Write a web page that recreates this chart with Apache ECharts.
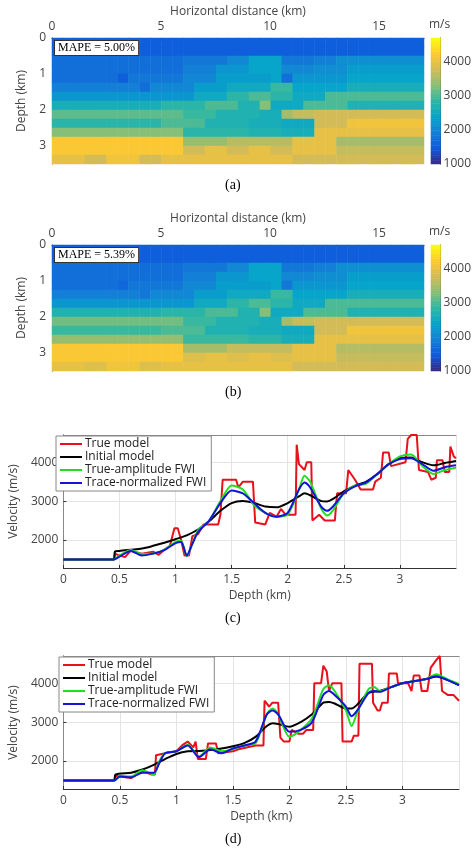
<!DOCTYPE html>
<html>
<head>
<meta charset="utf-8">
<script src="https://cdn.jsdelivr.net/npm/echarts@6/dist/echarts.min.js"></script>
<style>html,body{margin:0;padding:0;background:#fff}#main{width:474px;height:853px}</style>
</head>
<body>
<div id="main"></div>
<script>
// velocity models, hundreds of m/s, run-length rows [value, count], 34 cols x 0.5 km, 14 rows x 0.25 km
const modelA = [
  [[15,34]],
  [[15,34]],
  [[17,12],[18,4],[20,2],[24,3],[18,3],[19,2],[21,8]],
  [[17,12],[19,3],[22,3],[24,3],[20,3],[21,3],[23,7]],
  [[17,6],[15,1],[18,5],[20,3],[23,5],[24,1],[17,1],[22,5],[24,7]],
  [[19,8],[17,1],[20,4],[23,3],[25,4],[29,2],[24,5],[26,7]],
  [[22,13],[25,3],[28,2],[30,2],[28,2],[25,3],[30,9]],
  [[26,10],[28,4],[30,3],[27,2],[33,1],[25,3],[30,4],[27,7]],
  [[31,12],[29,3],[27,4],[26,2],[35,1],[37,2],[38,10]],
  [[28,10],[30,4],[27,4],[26,3],[25,3],[38,3],[41,7]],
  [[33,12],[28,6],[27,3],[26,3],[40,10]],
  [[42,12],[34,4],[36,6],[40,4],[35,8]],
  [[42,12],[38,2],[40,2],[38,2],[40,2],[38,2],[40,4],[37,8]],
  [[40,3],[38,2],[41,3],[38,2],[40,2],[40,10],[38,12]]
];
const modelB = [
  [[15,34]],
  [[15,34]],
  [[17,12],[18,4],[20,2],[24,3],[18,3],[19,2],[21,8]],
  [[17,12],[19,3],[22,3],[24,3],[20,3],[21,3],[23,7]],
  [[17,6],[16,1],[18,5],[20,3],[23,5],[24,1],[18,1],[22,5],[24,7]],
  [[19,8],[18,1],[20,4],[23,3],[25,4],[29,2],[24,5],[26,7]],
  [[22,13],[25,3],[28,2],[30,2],[28,2],[25,3],[30,9]],
  [[27,10],[28,4],[30,3],[27,2],[33,1],[25,3],[30,4],[27,7]],
  [[32,12],[29,3],[27,4],[26,2],[35,1],[37,2],[38,10]],
  [[29,10],[30,4],[27,4],[26,3],[25,3],[38,3],[41,7]],
  [[34,12],[29,6],[28,3],[26,3],[40,10]],
  [[42,12],[35,4],[37,6],[40,4],[36,8]],
  [[42,12],[39,2],[40,2],[39,2],[40,2],[39,2],[40,4],[37,8]],
  [[40,3],[39,2],[41,3],[39,2],[40,2],[40,10],[38,12]]
];
const mapeA = 'MAPE = 5.00%';
const mapeB = 'MAPE = 5.39%';
const velTicks = [2000, 3000, 4000];

// profiles [depth km, velocity m/s]
const trueC = [[0,1500],[0.45,1500],[0.46,1650],[0.5,1600],[0.55,1560],[0.6,1720],[0.7,1650],[0.8,1700],[0.85,1620],[0.9,1750],[0.95,1850],[0.99,2300],[1.02,2300],[1.05,2000],[1.08,1600],[1.12,1600],[1.15,2100],[1.2,2150],[1.25,2400],[1.38,2400],[1.4,2650],[1.42,3550],[1.54,3550],[1.56,3350],[1.6,3500],[1.69,3500],[1.71,2450],[1.8,2400],[1.84,2700],[1.9,2600],[1.94,2800],[1.98,2650],[2.07,2650],[2.08,4450],[2.1,3950],[2.15,3800],[2.17,4000],[2.21,4000],[2.22,2500],[2.28,2650],[2.33,2500],[2.42,2500],[2.44,3200],[2.52,3200],[2.54,3800],[2.6,3550],[2.65,3300],[2.76,3300],[2.78,3500],[2.83,3600],[2.85,4250],[2.9,4250],[2.92,3900],[3.05,4000],[3.07,4600],[3.1,4700],[3.15,4700],[3.17,3800],[3.25,3750],[3.28,3550],[3.32,3600],[3.33,4050],[3.38,4050],[3.4,3750],[3.44,3750],[3.45,4400],[3.48,4150],[3.5,4100]];
const initC = [[0,1500],[0.45,1500],[0.46,1700],[0.5,1720],[0.6,1750],[0.7,1780],[0.8,1850],[0.9,1930],[1,2020],[1.1,2120],[1.2,2270],[1.3,2480],[1.4,2750],[1.5,2950],[1.6,3000],[1.7,2950],[1.8,2860],[1.9,2840],[2,2950],[2.1,3120],[2.15,3200],[2.2,3150],[2.3,3000],[2.35,2990],[2.4,3050],[2.5,3250],[2.6,3400],[2.7,3500],[2.8,3700],[2.9,3950],[3,4100],[3.1,4120],[3.2,4000],[3.3,3920],[3.4,3980],[3.5,4030]];
const taC = [[0,1500],[0.45,1500],[0.5,1600],[0.6,1740],[0.7,1640],[0.8,1650],[0.9,1750],[1,1950],[1.05,1980],[1.1,1580],[1.15,1900],[1.2,2250],[1.3,2500],[1.4,3000],[1.5,3400],[1.6,3300],[1.7,2900],[1.8,2700],[1.9,2600],[2,2650],[2.1,3300],[2.15,3650],[2.2,3500],[2.3,2800],[2.35,2630],[2.4,2750],[2.5,3200],[2.6,3400],[2.7,3450],[2.8,3700],[2.9,3950],[3,4150],[3.1,4200],[3.2,3900],[3.3,3700],[3.4,3800],[3.5,3860]];
const tnC = [[0,1500],[0.45,1500],[0.5,1570],[0.6,1720],[0.7,1600],[0.8,1650],[0.9,1740],[1,1920],[1.05,1950],[1.1,1600],[1.15,1900],[1.2,2200],[1.3,2500],[1.4,2950],[1.5,3270],[1.6,3200],[1.7,2950],[1.8,2700],[1.9,2600],[2,2700],[2.1,3300],[2.15,3480],[2.2,3350],[2.3,2850],[2.35,2750],[2.4,2850],[2.5,3200],[2.6,3380],[2.7,3480],[2.8,3700],[2.9,3950],[3,4080],[3.1,4100],[3.2,3950],[3.3,3780],[3.4,3870],[3.5,3920]];

const trueD = [[0,1500],[0.45,1500],[0.46,1620],[0.5,1600],[0.6,1560],[0.7,1750],[0.78,1650],[0.81,1650],[0.82,2150],[0.9,2200],[1,2250],[1.05,2400],[1.1,2500],[1.15,2350],[1.17,2500],[1.19,2050],[1.26,2050],[1.28,2450],[1.35,2450],[1.37,2200],[1.5,2250],[1.55,2300],[1.7,2400],[1.77,2400],[1.78,3550],[1.82,3400],[1.85,3500],[1.9,3500],[1.92,2600],[1.95,2500],[2,2500],[2.02,2800],[2.08,2700],[2.12,2700],[2.15,2800],[2.21,2800],[2.22,4000],[2.28,4000],[2.3,4450],[2.33,4300],[2.35,3800],[2.38,4000],[2.46,4000],[2.47,2500],[2.55,2500],[2.57,2650],[2.61,2650],[2.62,4500],[2.73,4500],[2.74,3500],[2.78,3300],[2.8,3300],[2.82,3500],[2.87,3500],[2.88,4250],[2.95,4250],[2.96,4000],[3.05,4000],[3.08,3800],[3.1,4200],[3.15,4200],[3.17,3800],[3.22,3800],[3.25,4400],[3.3,4600],[3.33,4700],[3.35,3800],[3.4,3700],[3.45,3700],[3.5,3550]];
const initD = [[0,1500],[0.45,1500],[0.46,1650],[0.6,1700],[0.7,1780],[0.8,1900],[0.9,2050],[1,2180],[1.1,2250],[1.2,2260],[1.3,2280],[1.4,2320],[1.5,2380],[1.6,2460],[1.7,2620],[1.8,2900],[1.85,2970],[1.9,2950],[2,2880],[2.1,3000],[2.2,3200],[2.3,3500],[2.35,3520],[2.4,3480],[2.5,3350],[2.55,3350],[2.6,3450],[2.7,3750],[2.8,3800],[2.9,3900],[3,4000],[3.1,4050],[3.2,4100],[3.3,4170],[3.4,4080],[3.5,3950]];
const taD = [[0,1500],[0.45,1500],[0.5,1620],[0.6,1600],[0.7,1760],[0.8,1650],[0.85,2000],[0.9,2200],[1,2250],[1.1,2420],[1.2,2120],[1.3,2350],[1.4,2250],[1.5,2300],[1.6,2400],[1.7,2450],[1.8,3200],[1.85,3350],[1.9,3200],[2,2620],[2.1,2800],[2.2,3100],[2.3,3850],[2.35,3950],[2.4,3800],[2.5,3300],[2.55,2900],[2.6,3250],[2.7,3850],[2.75,3900],[2.8,3800],[2.9,3900],[3,4000],[3.1,4050],[3.2,4100],[3.3,4230],[3.4,4100],[3.5,3980]];
const tnD = [[0,1500],[0.45,1500],[0.5,1600],[0.6,1580],[0.7,1700],[0.8,1700],[0.85,1950],[0.9,2200],[1,2250],[1.1,2400],[1.2,2100],[1.3,2300],[1.4,2200],[1.5,2320],[1.6,2400],[1.7,2500],[1.8,3200],[1.85,3300],[1.9,3200],[2,2750],[2.1,2800],[2.2,3000],[2.3,3700],[2.35,3800],[2.4,3700],[2.5,3400],[2.55,3150],[2.6,3300],[2.7,3750],[2.75,3800],[2.8,3780],[2.9,3900],[3,4000],[3.1,4050],[3.2,4100],[3.3,4180],[3.4,4080],[3.5,3950]];

const parula = ['#352a87','#0f5cdd','#1481d6','#06a4ca','#2eb7a4','#87bf77','#d1bb59','#fec832','#f9fb0e'];
const sans = 'Open Sans';
const serif = 'Liberation Serif';
const txt = '#444';
const plain = (v) => String(v);

function expand(model) {
  const out = [];
  model.forEach((row, j) => {
    let i = 0;
    row.forEach(([v, n]) => { for (let k = 0; k < n; k++) out.push([i++, j, v * 100]); });
  });
  return out;
}
const colCats = Array.from({length: 34}, (_, i) => i);
const rowCats = Array.from({length: 14}, (_, i) => i);
const barCats = [];
for (let v = 1000; v <= 4700; v += 50) barCats.push(v);
const barData = barCats.map((v, i) => [0, i, v]);

const heatTop = [38, 245];
const lineTop = [435, 656];
const lineLeft = [55, 58];

const grids = [], xAxes = [], yAxes = [], series = [], graphics = [];
const axLine = {show: true, lineStyle: {color: '#333'}};

heatTop.forEach((top, k) => {
  const g = grids.length;
  grids.push({left: 52, top: top, width: 372, height: 126});
  grids.push({left: 431, top: top, width: 14, height: 126});
  const xc = xAxes.length;
  xAxes.push({gridIndex: g, type: 'category', data: colCats, show: false, position: 'bottom'});
  xAxes.push({gridIndex: g, type: 'value', min: 0, max: 17.06, interval: 5, position: 'top',
    name: 'Horizontal distance (km)', nameLocation: 'middle', nameGap: 20,
    nameTextStyle: {fontFamily: sans, fontSize: 12, color: txt},
    axisLine: axLine, axisTick: {inside: true, length: 3}, splitLine: {show: false},
    axisLabel: {fontFamily: sans, fontSize: 12, color: txt, margin: 5, showMaxLabel: false}});
  xAxes.push({gridIndex: g + 1, type: 'category', data: [0], show: false});
  const yc = yAxes.length;
  yAxes.push({gridIndex: g, type: 'category', data: rowCats, inverse: true, show: false, position: 'right'});
  yAxes.push({gridIndex: g, type: 'value', min: 0, max: 3.5, interval: 1, inverse: true, position: 'left',
    name: 'Depth (km)', nameLocation: 'middle', nameGap: 24,
    nameTextStyle: {fontFamily: sans, fontSize: 12, color: txt},
    axisLine: axLine, axisTick: {inside: true, length: 3}, splitLine: {show: false},
    axisLabel: {fontFamily: sans, fontSize: 12, color: txt, margin: 6, showMaxLabel: false}});
  yAxes.push({gridIndex: g + 1, type: 'category', data: barCats, show: false, position: 'left'});
  yAxes.push({gridIndex: g + 1, type: 'value', min: 1000, max: 4700, interval: 1000, position: 'right',
    axisLine: axLine, axisTick: {inside: true, length: 3}, splitLine: {show: false},
    axisLabel: {fontFamily: sans, fontSize: 12, color: txt, margin: 3, showMaxLabel: false, formatter: plain}});
  series.push({type: 'heatmap', xAxisIndex: xc, yAxisIndex: yc, data: expand(k === 0 ? modelA : modelB), silent: true});
  series.push({type: 'heatmap', xAxisIndex: xc + 2, yAxisIndex: yc + 2, data: barData, silent: true});
  graphics.push({type: 'text', z: 100, left: 429, top: top - 19, style: {text: 'm/s', font: '12px ' + sans, fill: txt}});
  graphics.push({type: 'text', z: 100, left: 54, top: top + 2, style: {text: k === 0 ? mapeA : mapeB, font: '12px ' + serif, fill: '#000',
    backgroundColor: '#fff', borderColor: '#333', borderWidth: 1, padding: [1, 3]}});
  graphics.push({type: 'text', z: 100, left: 225, top: top + 140, style: {text: k === 0 ? '(a)' : '(b)', font: '14px ' + serif, fill: '#000'}});
});

const heatSeries = [0, 1, 2, 3];
const names = ['True model', 'Initial model', 'True-amplitude FWI', 'Trace-normalized FWI'];
const colors = ['#e8101a', '#000000', '#22dd22', '#1414d8'];
const profiles = [[trueC, initC, taC, tnC], [trueD, initD, taD, tnD]];
const legends = [];

lineTop.forEach((top, k) => {
  const g = grids.length;
  grids.push({left: lineLeft[k], top: top, width: 401, height: 133});
  const xi = xAxes.length, yi = yAxes.length;
  xAxes.push({gridIndex: g, type: 'value', min: 0, max: 3.5, interval: 0.5, position: 'bottom',
    name: 'Depth (km)', nameLocation: 'middle', nameGap: 22,
    nameTextStyle: {fontFamily: sans, fontSize: 12, color: txt},
    axisLine: axLine, axisTick: {inside: true, length: 3},
    splitLine: {show: true, lineStyle: {color: '#e4e4e4'}},
    axisLabel: {fontFamily: sans, fontSize: 12, color: txt, margin: 6, showMaxLabel: false}});
  yAxes.push({gridIndex: g, type: 'value', min: 1280, max: 4700, position: 'left',
    name: 'Velocity (m/s)', nameLocation: 'middle', nameGap: 36,
    nameTextStyle: {fontFamily: sans, fontSize: 12, color: txt},
    axisLine: axLine, axisTick: {inside: true, length: 3, customValues: velTicks},
    splitLine: {show: true, lineStyle: {color: '#e4e4e4'}},
    axisLabel: {fontFamily: sans, fontSize: 12, color: txt, margin: 5, customValues: velTicks, formatter: plain}});
  // frame lines top/right
  xAxes.push({gridIndex: g, type: 'value', min: 0, max: 3.5, position: 'top', axisLine: {show: true, lineStyle: {color: '#888'}},
    axisTick: {show: false}, axisLabel: {show: false}, splitLine: {show: false}});
  yAxes.push({gridIndex: g, type: 'value', min: 1280, max: 4700, position: 'right', axisLine: {show: true, lineStyle: {color: '#888'}},
    axisTick: {show: false}, axisLabel: {show: false}, splitLine: {show: false}});
  const ids = [];
  profiles[k].forEach((d, s) => {
    const id = names[s] + (k ? ' ' : '');
    ids.push(id);
    series.push({type: 'line', name: id, xAxisIndex: xi, yAxisIndex: yi, data: d, showSymbol: false,
      smooth: s === 0 ? false : 0.25, lineStyle: {color: colors[s], width: 2}, itemStyle: {color: colors[s]},
      z: s === 0 ? 2 : 3 + s, silent: true});
  });
  legends.push({data: ids, orient: 'vertical', left: lineLeft[k] + 1, top: top + 1, itemGap: 1, itemWidth: 22, itemHeight: 2,
    backgroundColor: '#fff', borderColor: '#888', borderWidth: 1, padding: [2, 5, 2, 4], selectedMode: false,
    icon: 'rect', textStyle: {fontFamily: sans, fontSize: 12, color: '#222', padding: [0, 0, 0, -2]},
    formatter: (n) => n.trim()});
  graphics.push({type: 'text', z: 100, left: 225, top: top + 176, style: {text: k === 0 ? '(c)' : '(d)', font: '14px ' + serif, fill: '#000'}});
});

const chart = echarts.init(document.getElementById('main'));
chart.setOption({
  backgroundColor: '#fff',
  animation: false,
  grid: grids,
  xAxis: xAxes,
  yAxis: yAxes,
  visualMap: {show: false, min: 1000, max: 4700, seriesIndex: heatSeries, inRange: {color: parula}},
  legend: legends,
  series: series,
  graphic: graphics
});
</script>
</body>
</html>
